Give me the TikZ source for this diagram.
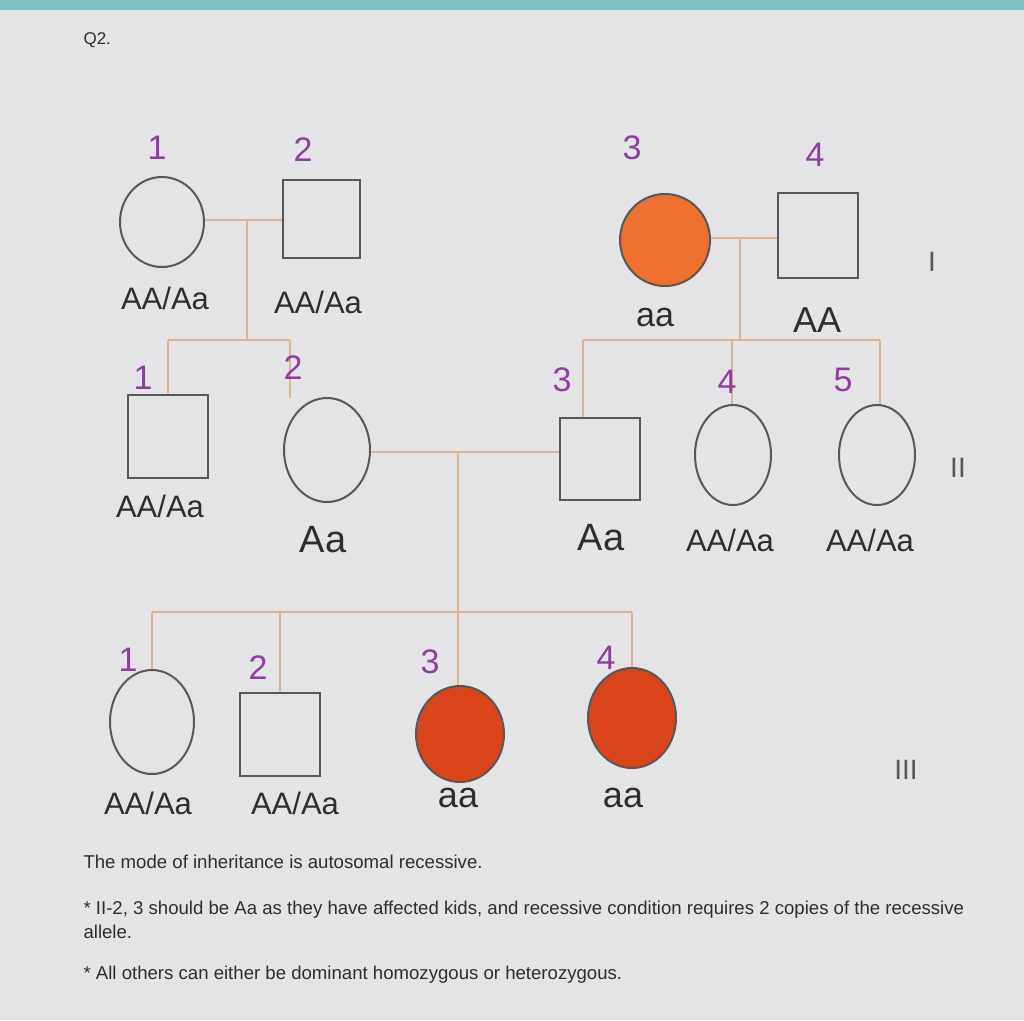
\documentclass[tikz,border=0pt]{standalone}
\usepackage{fontspec}
\setmainfont{Liberation Sans}
\definecolor{bg}{HTML}{E4E4E6}
\definecolor{ln}{HTML}{DDB48E}
\definecolor{num}{HTML}{8E3E9C}
\definecolor{aff1}{HTML}{EE7030}
\definecolor{aff2}{HTML}{D9441A}
\definecolor{txt}{HTML}{2E2E2E}
\begin{document}
\begin{tikzpicture}[x=1pt,y=-1pt,
  sym/.style={draw=txt!80,line width=2pt},
  con/.style={draw=ln,line width=1.8pt},
  numl/.style={text=num,font=\fontsize{34}{38}\selectfont},
  gen/.style={text=txt,font=\fontsize{31}{35}\selectfont},
  gl/.style={text=txt!80,font=\fontsize{28}{32}\selectfont},
  body/.style={text=txt,font=\fontsize{18.6}{22}\selectfont,anchor=west}]
\fill[bg] (0,0) rectangle (1024,1020);
\fill[teal!50] (0,0) rectangle (1024,10);
\useasboundingbox (0,0) rectangle (1024,1020);
\node[body,font=\fontsize{17}{19}\selectfont] (q) at (80,40) {Q2.};
% Gen I
\coordinate (m1a) at (204,220); \coordinate (m1b) at (283,220);
\draw[con] (m1a) -- (m1b);
\coordinate (d1t) at (247,220); \coordinate (d1b) at (247,340);
\draw[con] (d1t) -- (d1b);
\coordinate (s1l) at (168,340); \coordinate (s1r) at (290,340);
\draw[con] (s1l) -- (s1r);
\coordinate (s1a) at (168,395); \coordinate (s1b) at (290,398);
\draw[con] (s1l) -- (s1a); \draw[con] (s1r) -- (s1b);
\draw[sym] (162,222) ellipse (42 and 45);
\draw[sym] (283,180) rectangle (360,258);
\node[numl] (n11) at (157,148) {1};
\node[numl] (n12) at (303,150) {2};
\node[gen] (g11) at (165,298) {AA/Aa};
\node[gen] (g12) at (318,302) {AA/Aa};
\coordinate (m2a) at (710,238); \coordinate (m2b) at (778,238);
\draw[con] (m2a) -- (m2b);
\coordinate (d2t) at (740,238); \coordinate (d2b) at (740,340);
\draw[con] (d2t) -- (d2b);
\coordinate (s2l) at (583,340); \coordinate (s2r) at (880,340);
\draw[con] (s2l) -- (s2r);
\coordinate (s2a) at (583,418); \coordinate (s2b) at (732,405); \coordinate (s2c) at (880,405);
\draw[con] (s2l) -- (s2a); \draw[con] (732,340) -- (s2b); \draw[con] (s2r) -- (s2c);
\draw[sym,fill=aff1] (665,240) ellipse (45 and 46);
\draw[sym] (778,193) rectangle (858,278);
\node[numl] (n13) at (632,148) {3};
\node[numl] (n14) at (815,155) {4};
\node[gen,font=\fontsize{34}{38}\selectfont] (g13) at (655,318) {aa};
\node[gen,font=\fontsize{36}{40}\selectfont] (g14) at (817,320) {AA};
\node[gl] (r1) at (932,262) {I};
% Gen II
\coordinate (m3a) at (370,452); \coordinate (m3b) at (560,452);
\draw[con] (m3a) -- (m3b);
\coordinate (d3t) at (458,452); \coordinate (d3b) at (458,612);
\draw[con] (d3t) -- (d3b);
\coordinate (s3l) at (152,612); \coordinate (s3r) at (632,612);
\draw[con] (s3l) -- (s3r);
\draw[con] (s3l) -- (152,670); \draw[con] (280,612) -- (280,693);
\draw[con] (458,612) -- (458,686); \draw[con] (s3r) -- (632,668);
\draw[sym] (128,395) rectangle (208,478);
\draw[sym] (327,450) ellipse (43 and 52);
\draw[sym] (560,418) rectangle (640,500);
\draw[sym] (733,455) ellipse (38 and 50);
\draw[sym] (877,455) ellipse (38 and 50);
\node[numl] (n21) at (143,378) {1};
\node[numl] (n22) at (293,368) {2};
\node[numl] (n23) at (562,380) {3};
\node[numl] (n24) at (727,382) {4};
\node[numl] (n25) at (843,380) {5};
\node[gen] (g21) at (160,506) {AA/Aa};
\node[gen,font=\fontsize{38}{42}\selectfont] (g22) at (323,540) {Aa};
\node[gen,font=\fontsize{38}{42}\selectfont] (g23) at (601,538) {Aa};
\node[gen] (g24) at (730,540) {AA/Aa};
\node[gen] (g25) at (870,540) {AA/Aa};
\node[gl] (r2) at (958,468) {II};
% Gen III
\draw[sym] (152,722) ellipse (42 and 52);
\draw[sym] (240,693) rectangle (320,776);
\draw[sym,fill=aff2] (460,734) ellipse (44 and 48);
\draw[sym,fill=aff2] (632,718) ellipse (44 and 50);
\node[numl] (n31) at (128,660) {1};
\node[numl] (n32) at (258,668) {2};
\node[numl] (n33) at (430,662) {3};
\node[numl] (n34) at (606,658) {4};
\node[gen] (g31) at (148,803) {AA/Aa};
\node[gen] (g32) at (295,803) {AA/Aa};
\node[gen,font=\fontsize{36}{40}\selectfont] (g33) at (458,798) {aa};
\node[gen,font=\fontsize{36}{40}\selectfont] (g34) at (623,798) {aa};
\node[gl] (r3) at (906,770) {III};
% text
\node[body] (t1) at (80,862) {The mode of inheritance is autosomal recessive.};
\node[body] (t2) at (80,910) {* II-2, 3 should be Aa as they have affected kids, and recessive condition requires 2 copies of the recessive};
\node[body] (t3) at (80,932) {allele.};
\node[body] (t4) at (80,975) {* All others can either be dominant homozygous or heterozygous.};
\end{tikzpicture}
\end{document}
